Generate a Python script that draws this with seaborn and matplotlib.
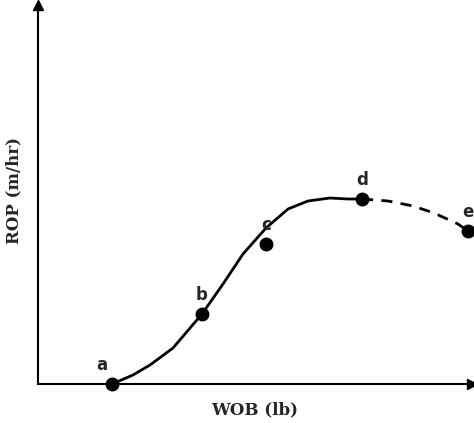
import numpy as np
import seaborn as sns
from matplotlib import pyplot as plt

sns.set_theme(style="white")

# curve (arbitrary units)
solid_x = [74, 95, 112, 135, 164, 185, 205, 228, 250, 270, 292, 310, 324]
solid_y = [0, 9, 19, 36, 70, 100, 130, 156, 175, 183, 186, 185, 185]
dash_x = [324, 350, 375, 396, 420, 430]
dash_y = [185, 183, 178, 171, 160, 153]

pt_names = ["a", "b", "c", "d", "e"]
pt_x = [74, 164, 228, 324, 430]
pt_y = [0, 70, 140, 185, 153]

fig = plt.figure(figsize=(4.74, 4.23), dpi=100)
ax = fig.add_axes([38 / 474, 39 / 423, 434 / 474, 379 / 423])
ax.set_xlim(0, 434)
ax.set_ylim(0, 379)

sns.lineplot(x=solid_x, y=solid_y, ax=ax, color="black", lw=2, sort=False)
sns.lineplot(x=dash_x, y=dash_y, ax=ax, color="black", lw=2, sort=False, linestyle=(0, (4, 3)))
ax.plot(pt_x, pt_y, "o", color="black", ms=9, clip_on=False, zorder=5)
for n, x, y in zip(pt_names, pt_x, pt_y):
    ax.text(x - 10 if n == "a" else x, y + 10, n, ha="center", va="bottom",
            fontsize=12, fontweight="bold")

for s in ["top", "right"]:
    ax.spines[s].set_visible(False)
for s in ["left", "bottom"]:
    ax.spines[s].set_color("black")
    ax.spines[s].set_linewidth(1.5)
ax.set_xticks([])
ax.set_yticks([])
ax.plot(1, 0, ">", color="black", ms=7, transform=ax.transAxes, clip_on=False)
ax.plot(0, 1, "^", color="black", ms=7, transform=ax.transAxes, clip_on=False)

fig.text(255 / 474, 1 - 410 / 423, "WOB (lb)", ha="center", va="center",
         fontsize=12, fontweight="bold", family="DejaVu Serif")
fig.text(14 / 474, 1 - 190 / 423, "ROP (m/hr)", ha="center", va="center",
         rotation=90, fontsize=12, fontweight="bold", family="DejaVu Serif")

fig.savefig("out.png", dpi=100)
